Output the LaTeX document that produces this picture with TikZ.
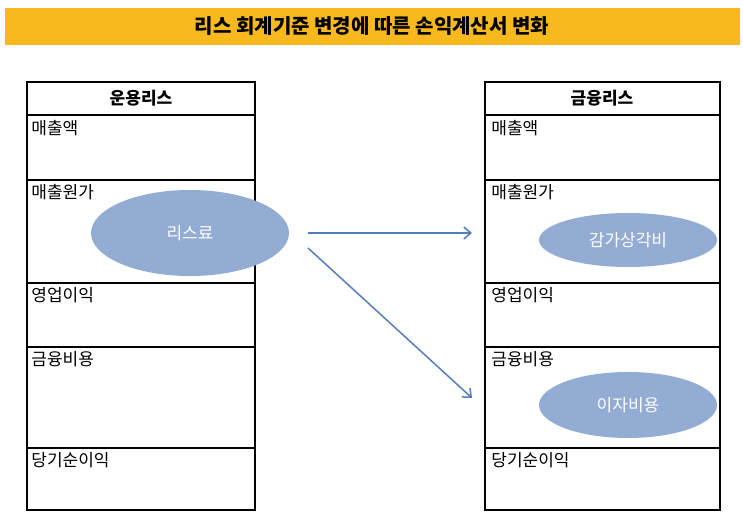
\documentclass[tikz,border=0pt]{standalone}
\usepackage{fontspec}
\setmainfont{Noto Sans CJK KR}
\usetikzlibrary{positioning}
\definecolor{banner}{RGB}{247,185,30}
\definecolor{ellfill}{RGB}{146,172,212}
\definecolor{arrowc}{RGB}{84,125,185}
\tikzset{every picture/.style={line width=1.3pt}}
\tikzset{rowlabel/.style={anchor=north west,inner sep=0.75pt,font=\fontsize{17}{19}\selectfont},
  cost/.style={ellipse,fill=ellfill,text=white,font=\fontsize{17}{19}\selectfont},
  flow/.style={draw=arrowc,line width=1.5pt,-{Straight Barb[length=7pt,width=12pt]}}}
\usetikzlibrary{shapes.geometric,arrows.meta}
\begin{document}
\begin{tikzpicture}[x=1pt,y=1pt,yscale=-1,xscale=1]
\useasboundingbox (0,0) rectangle (743,519);

% Title
\fill[banner] (5,8) rectangle (740,45);
\node (title) at (372,26) {\bfseries\fontsize{20}{22}\selectfont 리스 회계기준 변경에 따른 손익계산서 변화};

% Left table
\draw (27,82) rectangle (255,510);
\foreach \y in {115,180,283,347,448} \draw (27,\y) -- (255,\y);
\node (lhead) at (141,98) {\bfseries\fontsize{17}{19}\selectfont 운용리스};
\node[rowlabel] (l1) at (30,119) {매출액};
\node[rowlabel] (l2) at (30,183) {매출원가};
\node[rowlabel] (l3) at (30,286) {영업이익};
\node[rowlabel] (l4) at (30,350) {금융비용};
\node[rowlabel] (l5) at (30,451) {당기순이익};

% Right table
\draw (485,82) rectangle (720,510);
\foreach \y in {115,180,283,347,448} \draw (485,\y) -- (720,\y);
\node (rhead) at (602,98) {\bfseries\fontsize{17}{19}\selectfont 금융리스};
\node[rowlabel] (r1) at (490,119) {매출액};
\node[rowlabel] (r2) at (490,183) {매출원가};
\node[rowlabel] (r3) at (490,286) {영업이익};
\node[rowlabel] (r4) at (490,350) {금융비용};
\node[rowlabel] (r5) at (490,451) {당기순이익};

% Ellipses
\node[cost,minimum width=198pt,minimum height=86pt,inner sep=0pt] (lease) at (190,233) {리스료};
\node[cost,minimum width=178pt,minimum height=54pt,inner sep=0pt] (depr) at (628,240) {감가상각비};
\node[cost,minimum width=178pt,minimum height=66pt,inner sep=0pt] (interest) at (628,405) {이자비용};

% Connections
\coordinate (a1) at (308,233);
\coordinate (b1) at (472,233);
\coordinate (a2) at (308,248);
\coordinate (b2) at (472,398);
\draw[flow] (a1) -- (b1);
\draw[flow] (a2) -- (b2);

\end{tikzpicture}
\end{document}
